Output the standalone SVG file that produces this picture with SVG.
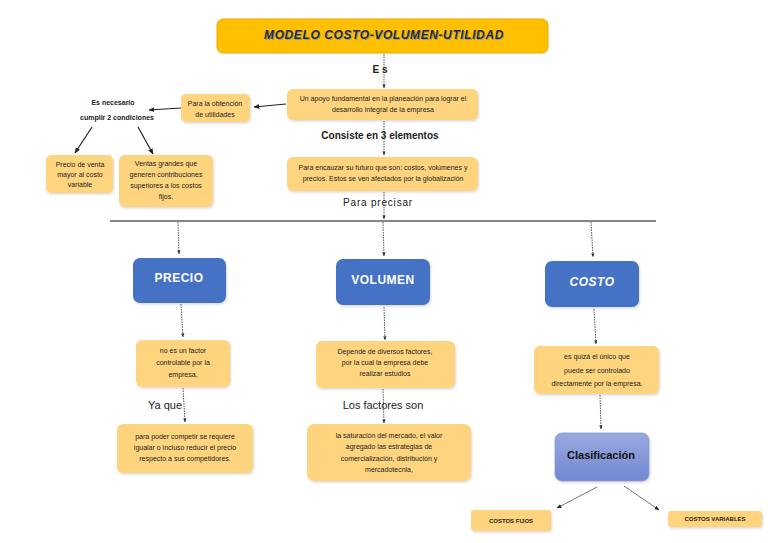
<svg xmlns="http://www.w3.org/2000/svg" width="768" height="543" viewBox="0 0 768 543">
<defs>
<marker id="ah" viewBox="0 0 10 10" refX="9" refY="5" markerWidth="5" markerHeight="5" orient="auto"><path d="M0,1 L10,5 L0,9 z" fill="#222"/></marker>
<marker id="ahs" viewBox="0 0 10 10" refX="9" refY="5" markerWidth="4" markerHeight="4" orient="auto"><path d="M0,1 L10,5 L0,9 z" fill="#333"/></marker>
<linearGradient id="cg" x1="0" y1="0" x2="0" y2="1"><stop offset="0" stop-color="#9AA8E0"/><stop offset="1" stop-color="#7188D2"/></linearGradient>
<filter id="sh" x="-10%" y="-10%" width="130%" height="140%"><feDropShadow dx="1" dy="1.5" stdDeviation="1" flood-color="#000" flood-opacity="0.15"/></filter>
</defs>
<style>
text{font-family:"Liberation Sans","DejaVu Sans",sans-serif;fill:#222;text-anchor:middle}
.o{fill:#FFD47E;filter:url(#sh)}
.b{fill:#4472C4;filter:url(#sh)}
.t{font-size:7px}
.bl{font-size:12px;font-weight:bold;fill:#fff;letter-spacing:0.5px}
.lab{font-size:10px}
.dot{stroke:#555;stroke-width:1;stroke-dasharray:1.5 1;fill:none;marker-end:url(#ahs)}
.sol{stroke:#222;stroke-width:1.2;fill:none;marker-end:url(#ah)}
.gr{stroke:#777;stroke-width:1;fill:none;marker-end:url(#ah)}
</style>
<rect width="768" height="543" fill="#fff"/>

<g id="connectors">
<line class="dot" x1="384" y1="54" x2="384" y2="88"/>
<line class="dot" x1="384" y1="121" x2="384" y2="155"/>
<line class="dot" x1="384" y1="192" x2="384" y2="219"/>
<line class="sol" x1="286" y1="104" x2="254" y2="107"/>
<line class="sol" x1="181" y1="108" x2="149" y2="110"/>
<line class="sol" x1="92" y1="127" x2="75" y2="153"/>
<line class="sol" x1="138" y1="127" x2="153" y2="154"/>
<line x1="110" y1="221" x2="656" y2="221" stroke="#111" stroke-width="1.2"/>
<line class="dot" x1="178" y1="222" x2="179" y2="254"/>
<line class="dot" x1="181" y1="304" x2="183" y2="337"/>
<line class="dot" x1="183" y1="388" x2="185" y2="422"/>
<line class="dot" x1="383" y1="222" x2="384" y2="256"/>
<line class="dot" x1="384" y1="307" x2="385" y2="340"/>
<line class="dot" x1="383" y1="389" x2="384" y2="423"/>
<line class="dot" x1="591" y1="222" x2="593" y2="257"/>
<line class="dot" x1="594" y1="309" x2="596" y2="344"/>
<line class="dot" x1="600" y1="395" x2="601" y2="429"/>
<line class="gr" x1="597" y1="487" x2="557" y2="508"/>
<line class="gr" x1="624" y1="486" x2="659" y2="510"/>
</g>

<g id="title">
<rect x="217" y="19" width="331" height="34" rx="6" fill="#FFC000" stroke="#E8A800" stroke-width="1"/>
<text x="384.7" y="39.7" font-size="12" font-style="italic" font-weight="bold" letter-spacing="0.6" style="fill:#999">MODELO COSTO-VOLUMEN-UTILIDAD</text>
<text x="384" y="39" font-size="12" font-style="italic" font-weight="bold" letter-spacing="0.6" style="fill:#2a2a2a">MODELO COSTO-VOLUMEN-UTILIDAD</text>
</g>

<g id="lbl-es"><text class="lab" x="380" y="73" font-weight="bold">E s</text></g>

<g id="apoyo">
<rect class="o" x="287" y="89" width="191" height="31" rx="6"/>
<text class="t" x="383" y="101">Un apoyo fundamental en la planeación para lograr el</text>
<text class="t" x="383" y="112">desarrollo integral de la empresa</text>
</g>

<g id="lbl-consiste"><text x="380" y="139" font-size="10" font-weight="bold">Consiste en 3 elementos</text></g>

<g id="encauzar">
<rect class="o" x="287" y="157" width="191" height="34" rx="6"/>
<text class="t" x="383" y="170">Para encauzar su futuro que son: costos, volúmenes y</text>
<text class="t" x="383" y="181">precios. Estos se ven afectados por la globalización</text>
</g>

<g id="lbl-precisar"><text class="lab" x="378" y="206" letter-spacing="0.8">Para precisar</text></g>

<g id="obtencion">
<rect class="o" x="181" y="94" width="69" height="28" rx="5"/>
<text class="t" x="215" y="106">Para la obtención</text>
<text class="t" x="215" y="117">de utilidades</text>
</g>

<g id="necesario">
<text class="t" x="113" y="105" font-weight="bold">Es necesario</text>
<text class="t" x="117" y="120" font-weight="bold">cumplir 2 condiciones</text>
</g>

<g id="cond1">
<rect class="o" x="46" y="155" width="67" height="38" rx="5"/>
<text class="t" x="80" y="167">Precio de venta</text>
<text class="t" x="80" y="177">mayor al costo</text>
<text class="t" x="80" y="187">variable</text>
</g>

<g id="cond2">
<rect class="o" x="119" y="155" width="94" height="52" rx="6"/>
<text class="t" x="166" y="166">Ventas grandes que</text>
<text class="t" x="166" y="177">generen contribuciones</text>
<text class="t" x="166" y="188">superiores a los costos</text>
<text class="t" x="166" y="199">fijos.</text>
</g>

<g id="precio">
<rect class="b" x="133" y="258" width="93" height="45" rx="7"/>
<text class="bl" x="179" y="282">PRECIO</text>
</g>
<g id="precio-d">
<rect class="o" x="136" y="340" width="94" height="47" rx="6"/>
<text class="t" x="183" y="353">no es un factor</text>
<text class="t" x="183" y="365">controlable por la</text>
<text class="t" x="183" y="377">empresa,</text>
</g>
<g id="lbl-yaque"><text x="165" y="409" font-size="11">Ya que</text></g>
<g id="precio-e">
<rect class="o" x="117" y="424" width="136" height="49" rx="6"/>
<text class="t" x="185" y="439">para poder competir se requiere</text>
<text class="t" x="185" y="450">igualar o incluso reducir el precio</text>
<text class="t" x="185" y="461">respecto a sus competidores.</text>
</g>

<g id="volumen">
<rect class="b" x="336" y="259" width="94" height="46" rx="7"/>
<text class="bl" x="383" y="284">VOLUMEN</text>
</g>
<g id="volumen-d">
<rect class="o" x="316" y="341" width="139" height="47" rx="6"/>
<text class="t" x="385" y="354">Depende de diversos factores,</text>
<text class="t" x="385" y="365">por la cual la empresa debe</text>
<text class="t" x="385" y="376">realizar estudios</text>
</g>
<g id="lbl-factores"><text x="383" y="409" font-size="11">Los factores son</text></g>
<g id="volumen-e">
<rect class="o" x="307" y="424" width="164" height="57" rx="7"/>
<text class="t" x="389" y="438">la saturación del mercado, el valor</text>
<text class="t" x="389" y="449">agregado las estrategias de</text>
<text class="t" x="389" y="461">comercialización, distribución y</text>
<text class="t" x="389" y="472">mercadotecnia,</text>
</g>

<g id="costo">
<rect class="b" x="545" y="261" width="94" height="46" rx="7"/>
<text class="bl" x="592" y="286" font-style="italic">COSTO</text>
</g>
<g id="costo-d">
<rect class="o" x="534" y="346" width="125" height="48" rx="6"/>
<text class="t" x="597" y="359">es quizá el único que</text>
<text class="t" x="597" y="373">puede ser controlado</text>
<text class="t" x="597" y="386">directamente por la empresa.</text>
</g>
<g id="clasificacion">
<rect x="555" y="433" width="94" height="48" rx="7" fill="url(#cg)" stroke="#8A9AD0" stroke-width="0.8" filter="url(#sh)"/>
<text x="601" y="459" font-size="11" font-weight="bold" style="fill:#111">Clasificación</text>
</g>
<g id="fijos">
<rect class="o" x="471" y="510" width="80" height="21" rx="3"/>
<text x="511" y="523" font-size="6" font-weight="bold">COSTOS FIJOS</text>
</g>
<g id="variables">
<rect class="o" x="668" y="511" width="94" height="16" rx="3"/>
<text x="715" y="521" font-size="6" font-weight="bold">COSTOS VARIABLES</text>
</g>
</svg>
